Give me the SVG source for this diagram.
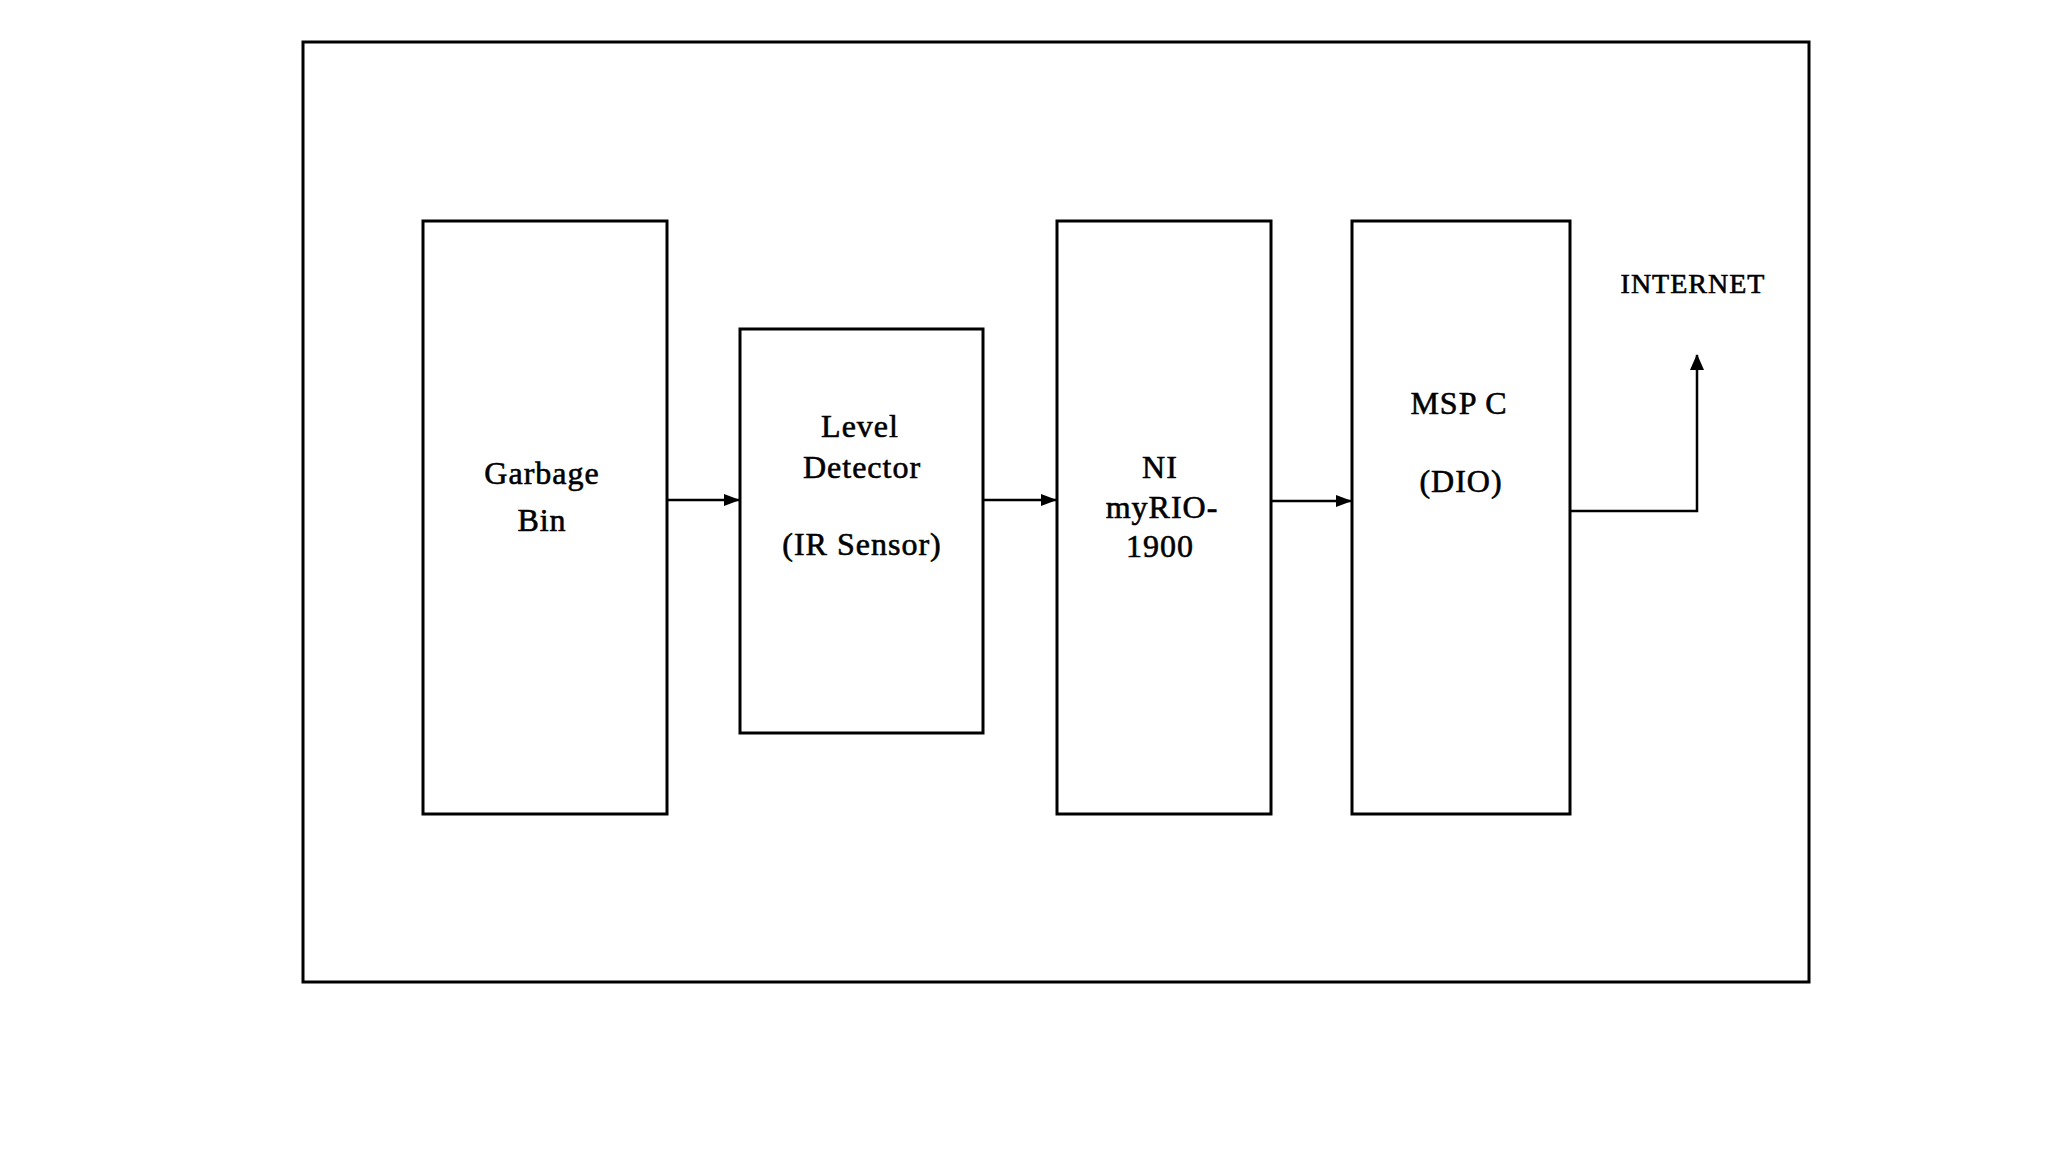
<svg xmlns="http://www.w3.org/2000/svg" width="2048" height="1152" viewBox="0 0 2048 1152">
<style>
.b{fill:#fff;stroke:#000;stroke-width:3}
.t{font-family:"Liberation Serif",serif;font-size:32px;text-anchor:middle;fill:#000;stroke:#000;stroke-width:0.6;letter-spacing:1px}
.c{fill:none;stroke:#000;stroke-width:2.5}
</style>
<defs><marker id="a" markerWidth="16" markerHeight="12" refX="15" refY="6" orient="auto" markerUnits="userSpaceOnUse"><path d="M0,0L16,6L0,12z" fill="#000"/></marker>
<marker id="u" markerWidth="16" markerHeight="14" refX="15" refY="7" orient="auto" markerUnits="userSpaceOnUse"><path d="M0,0L16,7L0,14z" fill="#000"/></marker></defs>
<rect width="2048" height="1152" fill="#fff"/>
<rect x="303" y="42" width="1506" height="940" fill="none" stroke="#000" stroke-width="3"/>
<g id="bin"><rect class="b" x="423" y="221" width="244" height="593"/><text class="t" x="542" y="484">Garbage</text><text class="t" x="542" y="531">Bin</text></g>
<g id="level"><rect class="b" x="740" y="329" width="243" height="404"/><text class="t" x="860" y="437">Level</text><text class="t" x="862" y="478">Detector</text><text class="t" x="862" y="555">(IR Sensor)</text></g>
<g id="ni"><rect class="b" x="1057" y="221" width="214" height="593"/><text class="t" x="1160" y="478">NI</text><text class="t" x="1162" y="518">myRIO-</text><text class="t" x="1160" y="557">1900</text></g>
<g id="msp"><rect class="b" x="1352" y="221" width="218" height="593"/><text class="t" x="1459" y="414">MSP C</text><text class="t" x="1461" y="492">(DIO)</text></g>
<g id="internet"><text class="t" x="1693" y="293" style="font-size:28px">INTERNET</text></g>
<g id="connectors">
<line class="c" x1="667" y1="500" x2="739" y2="500" marker-end="url(#a)"/>
<line class="c" x1="983" y1="500" x2="1056" y2="500" marker-end="url(#a)"/>
<line class="c" x1="1271" y1="501" x2="1351" y2="501" marker-end="url(#a)"/>
<polyline class="c" points="1570,511 1697,511 1697,355" marker-end="url(#u)" stroke="#444" stroke-width="3.5"/>
</g>
</svg>
